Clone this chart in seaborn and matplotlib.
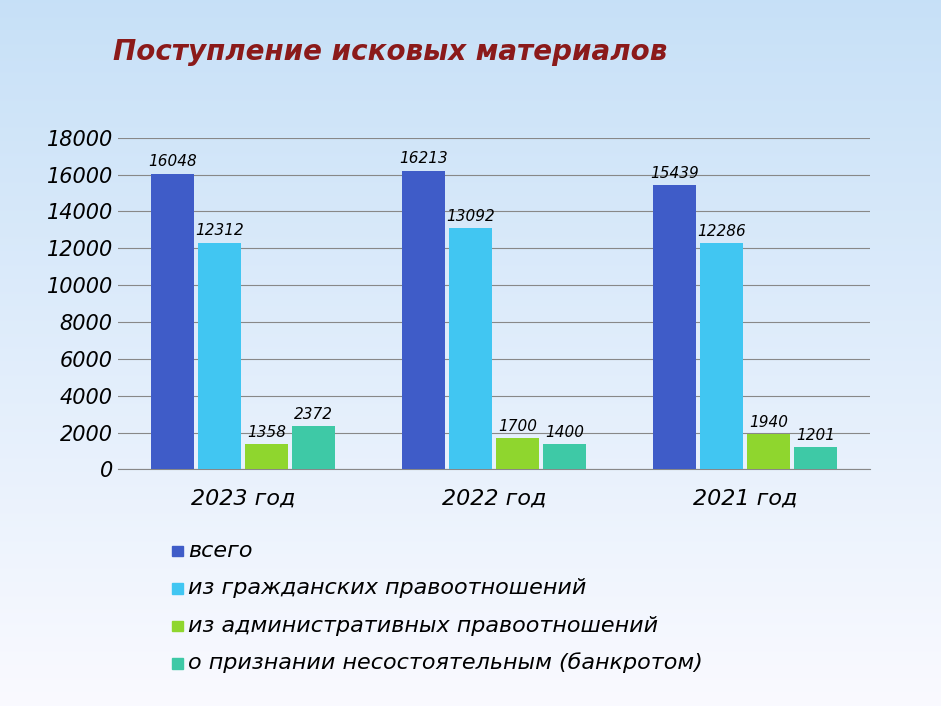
import numpy as np
import pandas as pd
import matplotlib
matplotlib.use("Agg")
import matplotlib.pyplot as plt
import seaborn as sns

years = ["2023 год", "2022 год", "2021 год"]
series = ["всего", "из гражданских правоотношений",
          "из административных правоотношений",
          "о признании несостоятельным (банкротом)"]
total = [16048, 16213, 15439]
civil = [12312, 13092, 12286]
admin = [1358, 1700, 1940]
bankrupt = [2372, 1400, 1201]
colors = ["#3F5CC8", "#41C6F2", "#8FD62E", "#3EC9A6"]

df = pd.DataFrame({
    "year": years * 4,
    "series": [s for s in series for _ in years],
    "value": total + civil + admin + bankrupt,
})

fig = plt.figure(figsize=(9.41, 7.06), dpi=100)
bg = fig.add_axes([0, 0, 1, 1], zorder=-10)
grad = np.linspace(0, 1, 256).reshape(-1, 1)
bg.imshow(np.dstack([0.78 + 0.2 * grad, 0.88 + 0.1 * grad, 0.97 + 0.03 * grad]),
          aspect="auto", extent=[0, 1, 0, 1])
bg.axis("off")

ax = fig.add_axes([0.125, 0.335, 0.8, 0.47])
ax.patch.set_alpha(0)
sns.barplot(data=df, x="year", y="value", hue="series", palette=colors,
            saturation=1, width=0.75, gap=0.08, ax=ax, legend=False, zorder=3)
for container in ax.containers:
    ax.bar_label(container, fmt="%d", padding=3, fontsize=11, style="italic")
ax.set_ylim(0, 18000)
ax.set_yticks(range(0, 18001, 2000))
ax.tick_params(axis="y", labelsize=15, length=0)
ax.tick_params(axis="x", labelsize=16, length=0, pad=14)
for lbl in ax.get_yticklabels() + ax.get_xticklabels():
    lbl.set_style("italic")
ax.set_xlabel("")
ax.set_ylabel("")
ax.grid(axis="y", color="#888888", linewidth=0.8, zorder=0)
for s in ["top", "right", "left"]:
    ax.spines[s].set_visible(False)
ax.spines["bottom"].set_color("#888888")

fig.text(0.12, 0.915, "Поступление исковых материалов", fontsize=20,
         style="italic", fontweight="bold", color="#8B1A1A")

for i, (s, c) in enumerate(zip(series, colors)):
    y = 0.22 - i * 0.053
    fig.patches.append(plt.Rectangle((0.183, y - 0.008), 0.011, 0.015,
                                     transform=fig.transFigure, color=c))
    fig.text(0.2, y, s, fontsize=16, style="italic", va="center")

fig.savefig("out.png", dpi=100)
